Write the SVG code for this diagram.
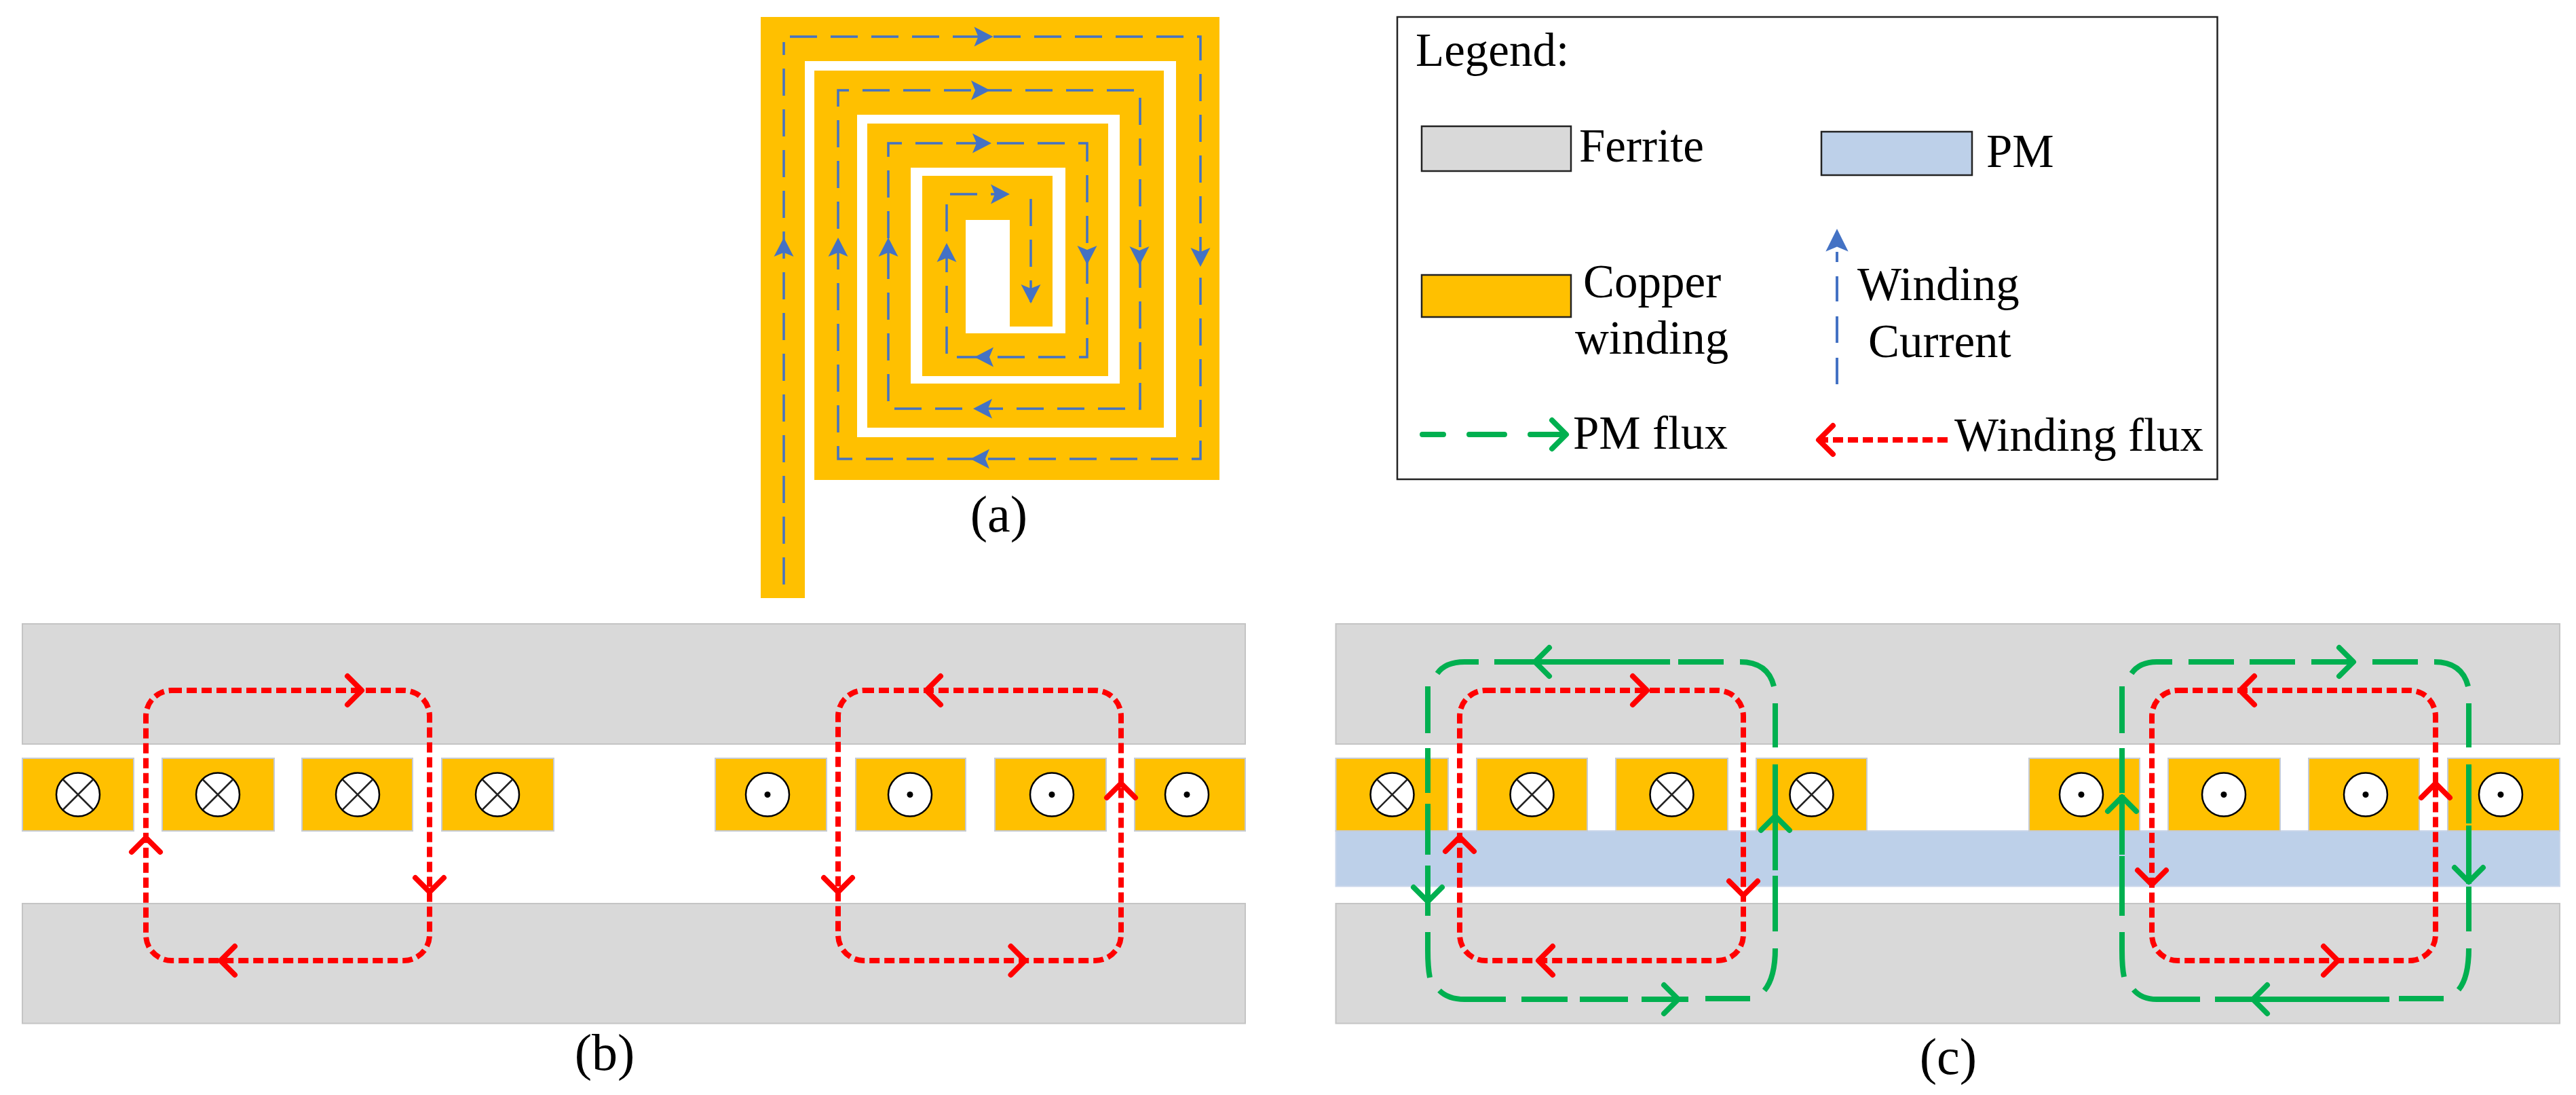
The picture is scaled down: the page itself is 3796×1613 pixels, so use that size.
<svg xmlns="http://www.w3.org/2000/svg" xmlns:xlink="http://www.w3.org/1999/xlink" width="3796" height="1613" viewBox="0 0 3796 1613">
<style>
text{font-family:"Liberation Serif","Times New Roman",serif;fill:#000;font-size:69px}
.cap{font-size:76px;text-anchor:middle}
.fer{fill:#D9D9D9;stroke:#C4C4C4;stroke-width:2}
.cu{fill:#FFC000;stroke:#C6CBD3;stroke-width:2}
.pm{fill:#BDD0E9;stroke:#C9D6EA;stroke-width:2}
.lg{stroke:#222;stroke-width:2.5}
.sym{fill:#fff;stroke:#000;stroke-width:2.5}
.xl{stroke:#222;stroke-width:2.5;fill:none}
.cur{fill:none;stroke:#4472C4;stroke-width:3.5;stroke-dasharray:40 20}
.red{fill:none;stroke:#FF0000;stroke-width:8;stroke-dasharray:15 7}
.grn{fill:none;stroke:#00B050;stroke-width:8}
.hr{fill:none;stroke:#FF0000;stroke-width:8;stroke-linecap:round;stroke-linejoin:round}
.hg{fill:none;stroke:#00B050;stroke-width:8;stroke-linecap:round;stroke-linejoin:round}
.ha{fill:#4472C4}
</style>
<defs>
<path id="chev" d="M-24 -21L-3 0L-24 21"/>
<path id="tri" d="M-28 -14.500L0 0L-28 14.500L-22 0Z"/>
<g id="xs"><circle r="32" class="sym"/><path class="xl" d="M-22 -22L22 22M22 -22L-22 22"/></g>
<g id="ds"><circle r="32" class="sym"/><circle r="4.500" fill="#000"/></g>
</defs>
<rect width="3796" height="1613" fill="#fff"/>

<g id="spiral-winding">
<path fill="#FFC000" d="M1121 881V25H1797V707H1200V104H1715V630H1278V182H1633V554H1359V259H1551V481H1488V324H1423V491H1570V247H1342V565H1650V169H1263V644H1733V90H1186V881Z"/>
</g>

<g id="ferrite-b"><rect class="fer" x="33" y="919" width="1802" height="177"/><rect class="fer" x="33" y="1331" width="1802" height="176.500"/></g>
<g id="winding-b-in">
<rect class="cu" x="33" y="1117" width="164" height="107"/><rect class="cu" x="239" y="1117" width="165" height="107"/><rect class="cu" x="445" y="1117" width="163" height="107"/><rect class="cu" x="651" y="1117" width="165" height="107"/>
<use href="#xs" x="115" y="1170.500"/><use href="#xs" x="321" y="1170.500"/><use href="#xs" x="527" y="1170.500"/><use href="#xs" x="733" y="1170.500"/>
</g>
<g id="winding-b-out">
<rect class="cu" x="1054" y="1117" width="164" height="107"/><rect class="cu" x="1261" y="1117" width="162" height="107"/><rect class="cu" x="1466" y="1117" width="164" height="107"/><rect class="cu" x="1672" y="1117" width="163" height="107"/>
<use href="#ds" x="1131" y="1170.500"/><use href="#ds" x="1341" y="1170.500"/><use href="#ds" x="1550" y="1170.500"/><use href="#ds" x="1749" y="1170.500"/>
</g>
<g id="ferrite-c"><rect class="fer" x="1968.500" y="919" width="1803.500" height="177"/><rect class="fer" x="1968.500" y="1331" width="1803.500" height="176.500"/></g>
<g id="pm-c"><rect class="pm" x="1968.500" y="1224" width="1803.500" height="81.500"/></g>
<g id="winding-c-in">
<rect class="cu" x="1968.500" y="1117" width="165.500" height="107"/><rect class="cu" x="2176" y="1117" width="163" height="107"/><rect class="cu" x="2381" y="1117" width="165" height="107"/><rect class="cu" x="2588" y="1117" width="163" height="107"/>
<use href="#xs" x="2051.500" y="1170.500"/><use href="#xs" x="2257.500" y="1170.500"/><use href="#xs" x="2463.500" y="1170.500"/><use href="#xs" x="2669.500" y="1170.500"/>
</g>
<g id="winding-c-out">
<rect class="cu" x="2990" y="1117" width="163" height="107"/><rect class="cu" x="3195" y="1117" width="165" height="107"/><rect class="cu" x="3402" y="1117" width="163" height="107"/><rect class="cu" x="3607" y="1117" width="165" height="107"/>
<use href="#ds" x="3067" y="1170.500"/><use href="#ds" x="3277" y="1170.500"/><use href="#ds" x="3486" y="1170.500"/><use href="#ds" x="3685" y="1170.500"/>
</g>

<g id="connectors">
<g id="current-a">
<path class="cur" d="M1155 861V62M1164 54H1769V676H1235V133H1680V602H1309V211H1602V526H1395V286H1470"/>
<path class="cur" d="M1519 293V445"/>
<use class="ha" href="#tri" transform="translate(1155 350) rotate(-90)"/>
<use class="ha" href="#tri" transform="translate(1235 350) rotate(-90)"/>
<use class="ha" href="#tri" transform="translate(1309 350) rotate(-90)"/>
<use class="ha" href="#tri" transform="translate(1395 358) rotate(-90)"/>
<use class="ha" href="#tri" transform="translate(1769 393) rotate(90)"/>
<use class="ha" href="#tri" transform="translate(1679 391) rotate(90)"/>
<use class="ha" href="#tri" transform="translate(1602 390) rotate(90)"/>
<use class="ha" href="#tri" transform="translate(1519 447) rotate(90)"/>
<use class="ha" href="#tri" transform="translate(1463.500 54)"/>
<use class="ha" href="#tri" transform="translate(1459 133)"/>
<use class="ha" href="#tri" transform="translate(1461 211)"/>
<use class="ha" href="#tri" transform="translate(1488 286)"/>
<use class="ha" href="#tri" transform="translate(1436 526) rotate(180)"/>
<use class="ha" href="#tri" transform="translate(1434 602) rotate(180)"/>
<use class="ha" href="#tri" transform="translate(1430 676) rotate(180)"/>
</g>
<g id="flux-b-left">
<path class="red" d="M253 1017H595A38 38 0 0 1 633 1055V1377A38 38 0 0 1 595 1415H253A38 38 0 0 1 215 1377V1055A38 38 0 0 1 253 1017Z"/>
<use class="hr" href="#chev" transform="translate(536 1017)"/>
<use class="hr" href="#chev" transform="translate(633 1317) rotate(90)"/>
<use class="hr" href="#chev" transform="translate(322 1415) rotate(180)"/>
<use class="hr" href="#chev" transform="translate(215 1231) rotate(-90)"/>
</g>
<g id="flux-b-right">
<path class="red" d="M1273 1017H1614A38 38 0 0 1 1652 1055V1377A38 38 0 0 1 1614 1415H1273A38 38 0 0 1 1235 1377V1055A38 38 0 0 1 1273 1017Z"/>
<use class="hr" href="#chev" transform="translate(1362 1017) rotate(180)"/>
<use class="hr" href="#chev" transform="translate(1513.500 1415)"/>
<use class="hr" href="#chev" transform="translate(1235 1317) rotate(90)"/>
<use class="hr" href="#chev" transform="translate(1652 1151) rotate(-90)"/>
</g>
<g id="flux-c-left">
<path class="red" d="M2189 1017H2531A38 38 0 0 1 2569 1055V1377A38 38 0 0 1 2531 1415H2189A38 38 0 0 1 2151 1377V1055A38 38 0 0 1 2189 1017Z"/>
<use class="hr" href="#chev" transform="translate(2430 1017)"/>
<use class="hr" href="#chev" transform="translate(2569 1322) rotate(90)"/>
<use class="hr" href="#chev" transform="translate(2264 1415) rotate(180)"/>
<use class="hr" href="#chev" transform="translate(2151 1230) rotate(-90)"/>
<path class="grn" d="M2118 992Q2130 975 2158 975H2179M2202 975H2461M2473 975H2540M2564 975Q2605 975 2614 1011M2616 1036V1101M2616 1126V1282M2616 1290V1372M2616 1397Q2616 1440 2600 1459M2579 1471H2513M2488 1472H2419M2399 1472H2328M2310 1472H2242M2219 1472H2158Q2134 1472 2121 1459M2107 1440Q2104 1425 2104 1400V1373M2104 1349V1275M2104 1259V1184M2104 1168V1102M2104 1080V1011"/>
<use class="hg" href="#chev" transform="translate(2259 975) rotate(180)"/>
<use class="hg" href="#chev" transform="translate(2476 1472)"/>
<use class="hg" href="#chev" transform="translate(2104 1331) rotate(90)"/>
<use class="hg" href="#chev" transform="translate(2616 1199) rotate(-90)"/>
</g>
<g id="flux-c-right">
<path class="red" d="M3209 1017H3551A38 38 0 0 1 3589 1055V1377A38 38 0 0 1 3551 1415H3209A38 38 0 0 1 3171 1377V1055A38 38 0 0 1 3209 1017Z"/>
<use class="hr" href="#chev" transform="translate(3298 1017) rotate(180)"/>
<use class="hr" href="#chev" transform="translate(3448 1415)"/>
<use class="hr" href="#chev" transform="translate(3171 1306) rotate(90)"/>
<use class="hr" href="#chev" transform="translate(3589 1151) rotate(-90)"/>
<path class="grn" d="M3141 992Q3153 975 3178 975H3201M3225 975H3292M3315 975H3382M3406 975H3470M3496 975H3563M3587 975Q3628 975 3637 1011M3638 1036V1101M3638 1126V1213M3638 1216V1302M3638 1306V1372M3638 1397Q3638 1440 3623 1458M3601 1471H3535M3521 1472H3264M3242 1472H3178Q3156 1472 3144 1458M3130 1439Q3127 1425 3127 1400V1373M3127 1349V1261M3127 1259V1171M3127 1168V1102M3127 1080V1011"/>
<use class="hg" href="#chev" transform="translate(3471 975)"/>
<use class="hg" href="#chev" transform="translate(3317 1472) rotate(180)"/>
<use class="hg" href="#chev" transform="translate(3127 1171) rotate(-90)"/>
<use class="hg" href="#chev" transform="translate(3638 1302) rotate(90)"/>
</g>
</g>

<g id="captions">
<text class="cap" x="1472" y="783">(a)</text>
<text class="cap" x="891" y="1576">(b)</text>
<text class="cap" x="2871" y="1582">(c)</text>
</g>

<g id="legend">
<rect x="2059" y="25" width="1208.500" height="681" fill="#fff" stroke="#222" stroke-width="2.500"/>
<text x="2086" y="97">Legend:</text>
<g id="legend-ferrite"><rect class="lg" fill="#D9D9D9" x="2095" y="186" width="220" height="66"/><text x="2327" y="238">Ferrite</text></g>
<g id="legend-pm"><rect class="lg" fill="#BDD0E9" x="2684" y="194" width="222" height="64"/><text x="2927" y="246">PM</text></g>
<g id="legend-copper"><rect class="lg" fill="#FFC000" x="2095" y="405" width="220" height="62"/><text x="2333" y="438">Copper</text><text x="2321" y="521">winding</text></g>
<g id="legend-current">
<path d="M2707 566V527M2707 505V466M2707 444V407M2707 386V371" fill="none" stroke="#4472C4" stroke-width="4"/>
<use class="ha" href="#tri" transform="translate(2707 337) rotate(-90) scale(1.2 1.15)"/>
<text x="2737" y="442">Winding</text><text x="2753" y="526">Current</text>
</g>
<g id="legend-pm-flux">
<path d="M2096 640H2127M2165 640H2217M2255 640H2306" fill="none" stroke="#00B050" stroke-width="8" stroke-linecap="round"/>
<use class="hg" href="#chev" transform="translate(2311 640)"/>
<text x="2318" y="661">PM flux</text>
</g>
<g id="legend-winding-flux">
<path class="red" d="M2870 648H2680"/>
<use class="hr" href="#chev" transform="translate(2677 648) rotate(180)"/>
<text x="2880" y="664">Winding flux</text>
</g>
</g>
</svg>
